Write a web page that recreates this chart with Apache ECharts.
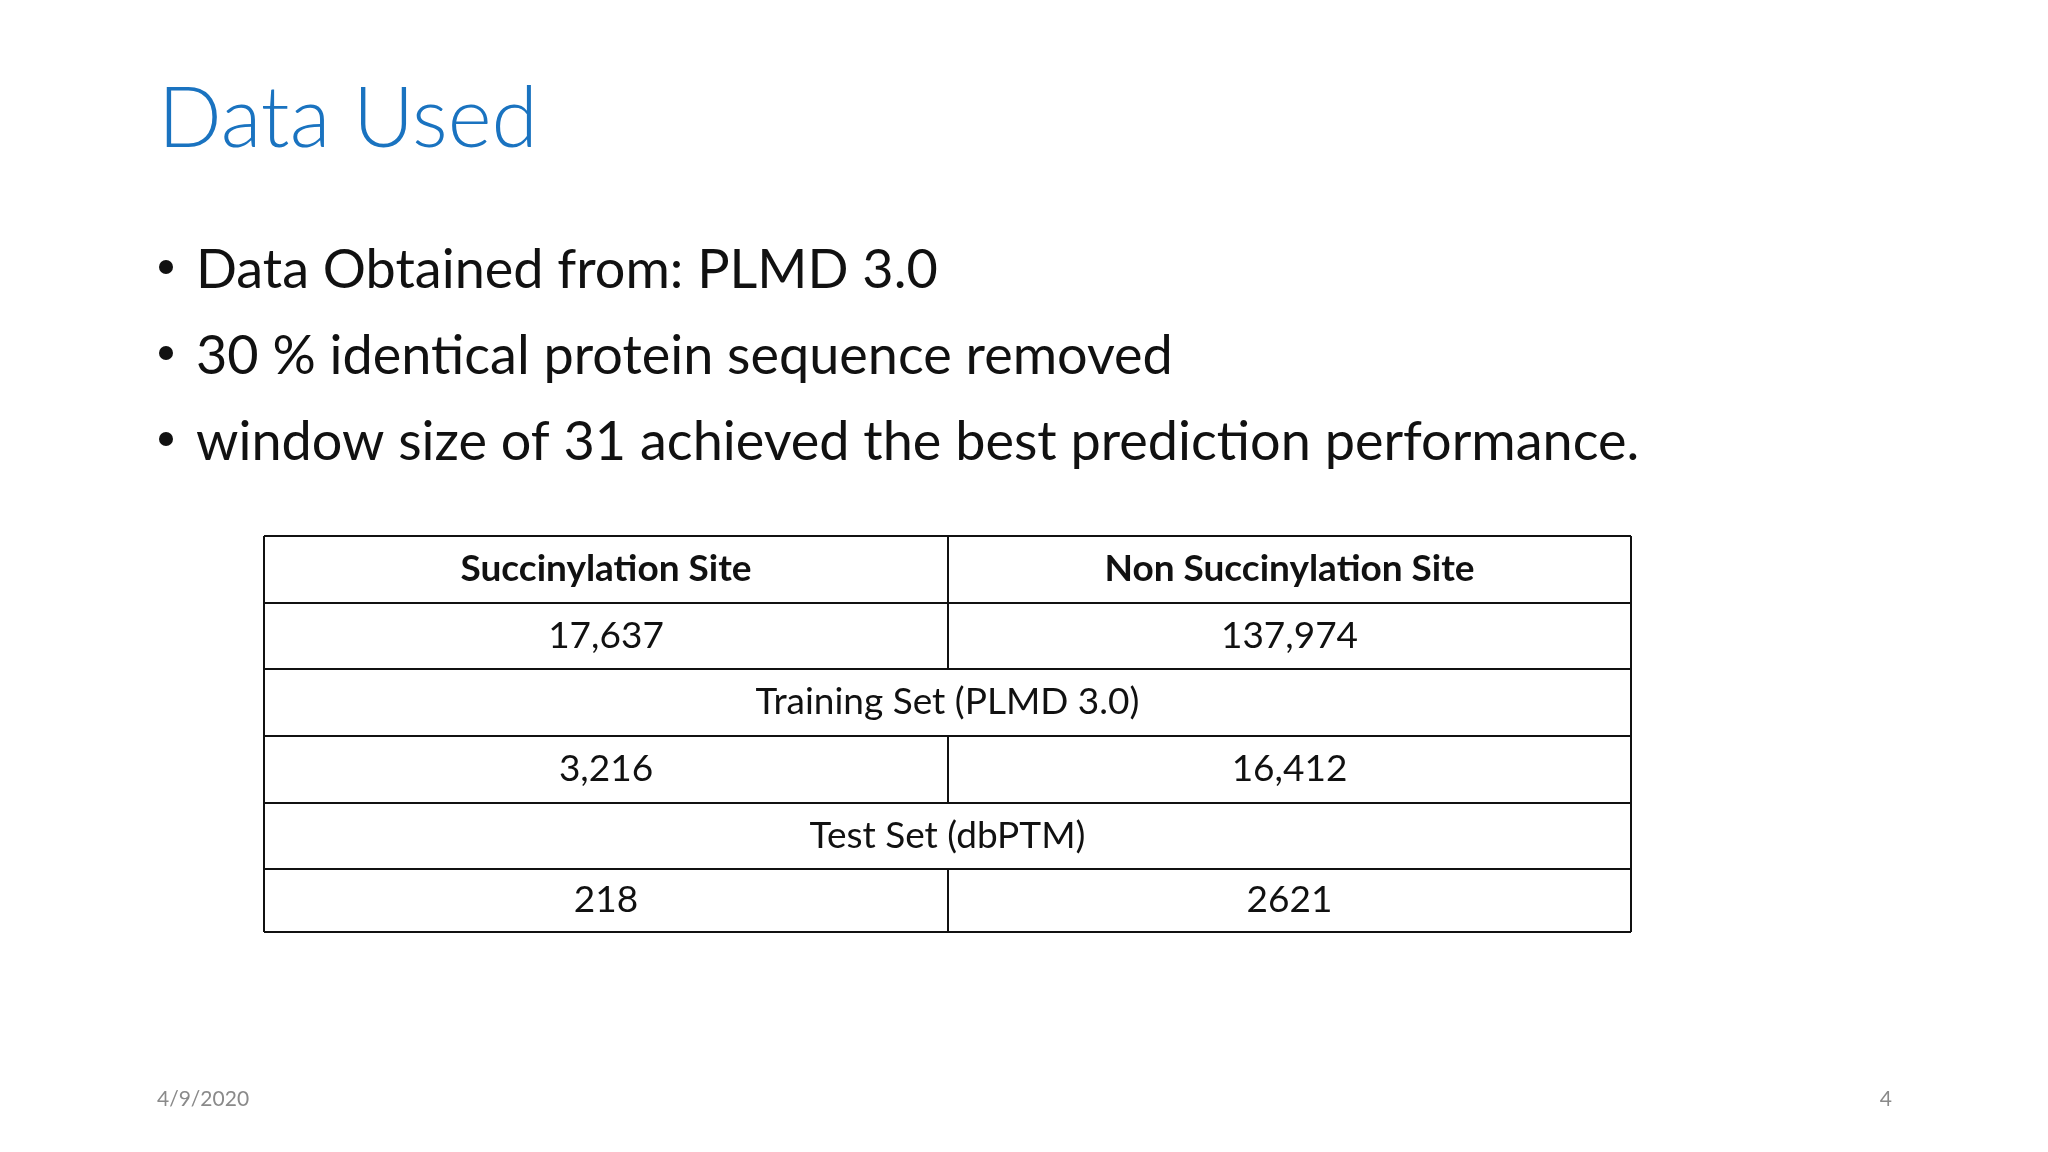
<!DOCTYPE html>
<html>
<head>
<meta charset="utf-8">
<script src="https://cdn.jsdelivr.net/npm/echarts@6/dist/echarts.min.js"></script>
<style>
  html, body { margin: 0; padding: 0; background: #fff; }
  #main { width: 2048px; height: 1152px; }
</style>
</head>
<body>
<div id="main"></div>
<script>
// 幻灯片文字
const title = 'Data Used';
const bullets = [
    'Data Obtained from: PLMD 3.0',
    '30 % identical protein sequence removed',
    'window size of 31 achieved the best prediction performance.'
];
// 表格内容：两列的行，或者合并成一格的行
const headers = ['Succinylation Site', 'Non Succinylation Site'];
const rowsTraining = ['17,637', '137,974'];
const labelTraining = 'Training Set (PLMD 3.0)';
const rowsTest = ['3,216', '16,412'];
const labelTest = 'Test Set (dbPTM)';
const rowsExtra = ['218', '2621'];
const footerDate = '4/9/2020';
const footerPage = '4';

const font = 'Lato, "Open Sans", sans-serif';
const tableRows = [
    { cells: headers, bold: true },
    { cells: rowsTraining },
    { cells: [labelTraining] },
    { cells: rowsTest },
    { cells: [labelTest] },
    { cells: rowsExtra }
];
const rowEdges = [536, 603, 669, 736, 803, 869, 932];
const left = 264, right = 1631, mid = 948;

let elements = [];
elements.push({
    type: 'text', left: 158, top: 78,
    style: { text: title, font: '300 84px ' + font, fill: '#1a73c0' }
});
bullets.forEach(function(b, i) {
    let y = 271 + i * 86;
    elements.push({ type: 'circle', shape: { cx: 166, cy: y - 4, r: 7 }, style: { fill: '#111' } });
    elements.push({
        type: 'text', x: 196, y: y,
        style: { text: b, font: '54px ' + font, fill: '#111', textVerticalAlign: 'middle' }
    });
});

// 表格
tableRows.forEach(function(row, i) {
    let y0 = rowEdges[i], y1 = rowEdges[i + 1];
    let cy = (y0 + y1) / 2;
    if (row.cells.length === 2) {
        [[left, mid], [mid, right]].forEach(function(span, j) {
            elements.push({
                type: 'text', x: (span[0] + span[1]) / 2, y: cy,
                style: { text: row.cells[j], font: (row.bold ? 'bold ' : '') + '37px ' + font,
                    fill: '#111', textAlign: 'center', textVerticalAlign: 'middle' }
            });
        });
        elements.push({ type: 'line', shape: { x1: mid, y1: y0, x2: mid, y2: y1 }, style: { stroke: '#111', lineWidth: 2 } });
    } else {
        elements.push({
            type: 'text', x: (left + right) / 2, y: cy,
            style: { text: row.cells[0], font: '37px ' + font, fill: '#111', textAlign: 'center', textVerticalAlign: 'middle' }
        });
    }
});
rowEdges.forEach(function(y) {
    elements.push({ type: 'line', shape: { x1: left, y1: y, x2: right, y2: y }, style: { stroke: '#111', lineWidth: 2 } });
});
[left, right].forEach(function(x) {
    elements.push({ type: 'line', shape: { x1: x, y1: rowEdges[0], x2: x, y2: rowEdges[rowEdges.length - 1] }, style: { stroke: '#111', lineWidth: 2 } });
});

// 页脚
elements.push({ type: 'text', x: 157, y: 1099, style: { text: footerDate, font: '21px ' + font, fill: '#8a8a8a', textVerticalAlign: 'middle' } });
elements.push({ type: 'text', x: 1892, y: 1099, style: { text: footerPage, font: '21px ' + font, fill: '#8a8a8a', textAlign: 'right', textVerticalAlign: 'middle' } });

let chart = echarts.init(document.getElementById('main'));
chart.setOption({ backgroundColor: '#fff', graphic: { elements: elements } });
</script>
</body>
</html>
